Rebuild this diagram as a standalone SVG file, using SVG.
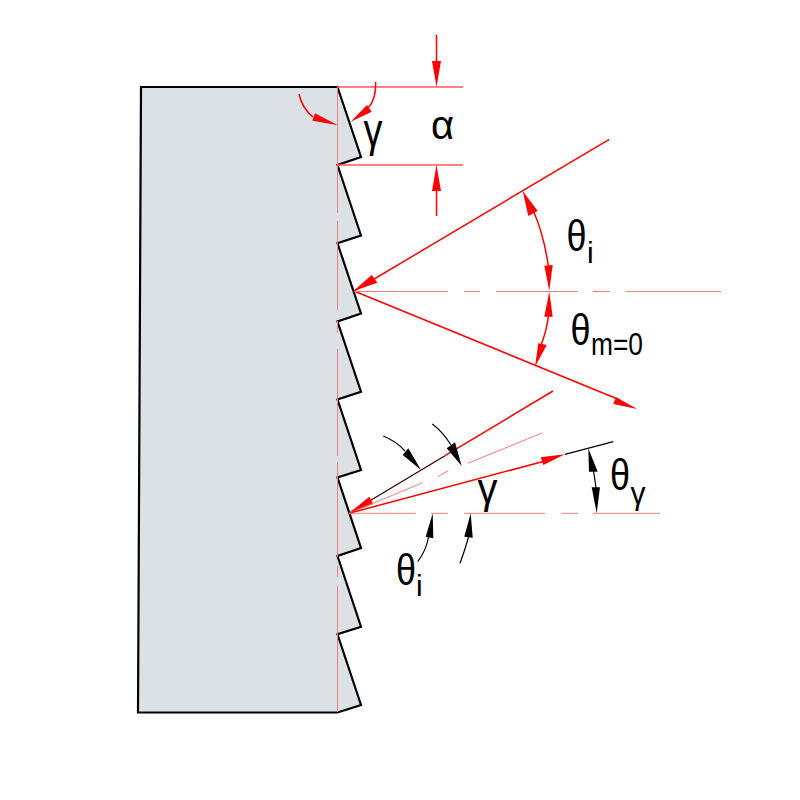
<svg xmlns="http://www.w3.org/2000/svg" width="800" height="800" viewBox="0 0 800 800">
<style>
text{font-family:"Liberation Sans",Arial,sans-serif;fill:#000}
.pale{stroke:#f47c7c;stroke-width:1;fill:none}
.ext{stroke:#ff5a5a;stroke-width:1.5;fill:none}
.ray{stroke:#ff0000;stroke-width:1.5;fill:none}
.bk{stroke:#000;stroke-width:1.2;fill:none}
.rh{fill:#ff0000;stroke:none}
.kh{fill:#000;stroke:none}
</style>
<g id="grating">
<path d="M141 87H337.5L361 157L337.5 165L361 235.5L337.5 243.3L361 313.5L337.5 321.5L361 391.7L337.5 399.5L361 470L337.5 477.5L361 548L337.5 556L361 626.7L337.5 634.3L361 705L337.5 712.5H138Z" fill="#dce1e6" stroke="#000" stroke-width="2.2" stroke-linejoin="miter"/>
</g>
<g id="connectors">
<path class="pale" d="M337.5 87V213M337.5 221V310M337.5 321V333M337.5 349V456M337.5 462V557M337.5 566V577M337.5 586V712"/>
<path class="ext" d="M337.5 87H463M337.5 165H463"/>
<path class="ray" d="M436.5 35V64M436.5 190V216"/>
<polygon class="rh" points="436.5,87 432,61 441,61"/>
<polygon class="rh" points="436.5,165 432,191 441,191"/>
<path class="ray" d="M375.7 82Q376 100 368 108"/>
<polygon class="rh" points="350.7,121.7 367,105 371.7,111.7"/>
<path class="ray" d="M299 94Q302 108 313 117"/>
<polygon class="rh" points="337.3,125 315,113.3 312.3,120.7"/>
<path class="ray" d="M609.3 139.3L354 291"/>
<polygon class="rh" points="353.5,291 371.7,275 377.3,282.7"/>
<path class="ray" d="M354 291L620 400"/>
<polygon class="rh" points="637.3,409 616,397.3 613.3,404"/>
<path class="pale" d="M354 291.5H448M464 291.5H480M496 291.5H578M593 291.5H610M626 291.5H721"/>
<path class="ray" d="M533 210Q544 235 548.5 267M548.5 315Q547 330 541 345"/>
<polygon class="rh" points="522.7,191 528.3,216 537.7,211"/>
<polygon class="rh" points="549.3,290.7 544.3,265.7 552.7,265"/>
<polygon class="rh" points="549.3,291.7 544.3,316.7 552.7,316.7"/>
<polygon class="rh" points="535,366.7 538.3,343.3 546.7,345"/>
<path class="ray" d="M349 513.3L372 499.5M445 455.7L553 391"/>
<path class="bk" d="M372 499.5L445 455.7" style="stroke:#300"/>
<polygon class="rh" points="349,513.3 369.3,496.7 373.3,504"/>
<path class="pale" d="M349 513.3L422.7 482.7M437.7 476.7L448.3 470.7M468 463.3L542 433"/>
<path class="ray" d="M349 513.3L545 461"/>
<polygon class="rh" points="565,454.3 540.7,457.3 543.3,465"/>
<path class="bk" d="M565 454.3L613.3 441.7"/>
<path class="pale" d="M349 513.3H415.7M431 513.3H447.7M464 513.3H545M561.7 513.3H578M593 513.3H660"/>
<path class="bk" d="M383.3 436Q396 441 405 451M432.3 424Q443 432 451 445M417.7 561.7Q426 551 428.5 537M460 563.3Q465 550 468.5 537M593.5 471Q595 480 596 488"/>
<polygon class="kh" points="421,470 408.3,448.3 402.7,455"/>
<polygon class="kh" points="461.7,466 455,442.3 446.7,448.3"/>
<polygon class="kh" points="432.7,513.3 425.7,536.7 433.3,538.3"/>
<polygon class="kh" points="470.7,513.3 464.3,536.7 472.7,537.7"/>
<polygon class="kh" points="588.3,448.3 589,471.7 597.7,471.7"/>
<polygon class="kh" points="596.7,513.3 591.7,487.3 600,487.3"/>
</g>
<g id="labels">
<text x="431" y="139" font-size="40">α</text>
<text x="363.5" y="146" font-size="46" textLength="19" lengthAdjust="spacingAndGlyphs">γ</text>
<text transform="translate(566.5 251) scale(1 1.25)" font-size="36">θ</text>
<text x="587" y="262.5" font-size="30">i</text>
<text transform="translate(570.5 345) scale(1 1.25)" font-size="36">θ</text>
<text x="591" y="355" font-size="31" textLength="52" lengthAdjust="spacingAndGlyphs">m=0</text>
<text x="477.5" y="503" font-size="43" textLength="20" lengthAdjust="spacingAndGlyphs">γ</text>
<text transform="translate(610 490) scale(1 1.25)" font-size="36">θ</text>
<text x="630.5" y="503.5" font-size="31" textLength="15" lengthAdjust="spacingAndGlyphs">γ</text>
<text transform="translate(396 585) scale(1 1.25)" font-size="36">θ</text>
<text x="416" y="596" font-size="30">i</text>
</g>
</svg>
